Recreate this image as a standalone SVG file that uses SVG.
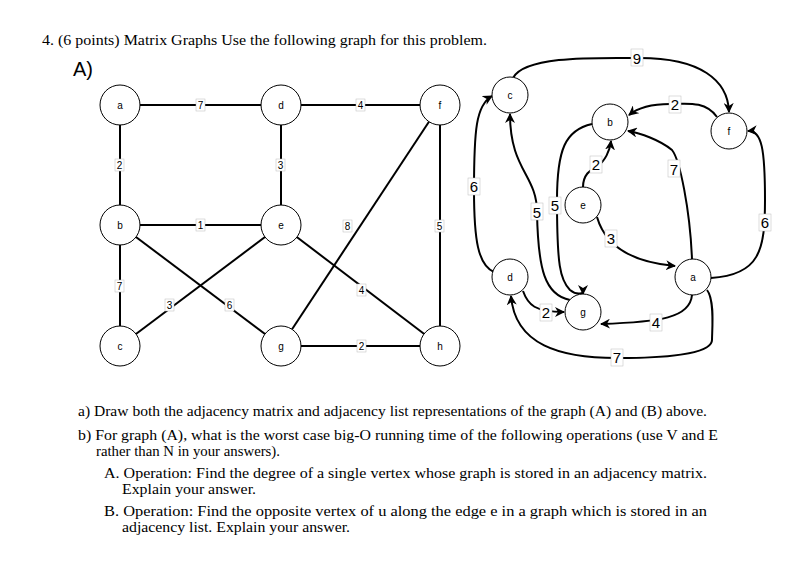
<svg xmlns="http://www.w3.org/2000/svg" width="790" height="566" viewBox="0 0 790 566">
<style>
.n circle{fill:#fff;stroke:#000;stroke-width:1}
.n text{font:10px "Liberation Sans",sans-serif;text-anchor:middle;dominant-baseline:central}
.e line,.e path{stroke:#000;stroke-width:2;fill:none}
.w{font:10px "Liberation Sans",sans-serif;text-anchor:middle;dominant-baseline:central}
.wb{fill:#fff;stroke:#bbb;stroke-width:0.5}
.W{font:15px "Liberation Sans",sans-serif;text-anchor:middle;dominant-baseline:central}
.t{font:14px "Liberation Serif",serif}
</style>
<defs><marker id="ar" viewBox="0 0 10 10" refX="9" refY="5" markerWidth="10" markerHeight="10" markerUnits="userSpaceOnUse" orient="auto"><path d="M0,0L10,5L0,10L3,5z" fill="#000"/></marker></defs>
<rect width="790" height="566" fill="#fff"/>
<text class="t" x="42" y="45" textLength="445" lengthAdjust="spacingAndGlyphs">4. (6 points) Matrix Graphs Use the following graph for this problem.</text>
<text x="73" y="76" font-family="Liberation Sans,sans-serif" font-size="20">A)</text>
<g id="connectors">
<g class="e">
<line x1="120" y1="105" x2="281" y2="105"/><line x1="281" y1="105" x2="440" y2="105"/>
<line x1="120" y1="105" x2="120" y2="225"/><line x1="281" y1="105" x2="281" y2="225"/>
<line x1="120" y1="225" x2="281" y2="225"/><line x1="120" y1="225" x2="120" y2="346"/>
<line x1="120" y1="225" x2="281" y2="346"/><line x1="281" y1="225" x2="120" y2="346"/>
<line x1="281" y1="225" x2="440" y2="346"/><line x1="440" y1="105" x2="281" y2="346"/>
<line x1="440" y1="105" x2="440" y2="346"/><line x1="281" y1="346" x2="440" y2="346"/>
</g>
<g class="e">
<path d="M513,78 C525,55 600,58 640,58 C700,58 728,80 729,112" marker-end="url(#ar)"/>
<path d="M717,117 C705,100 685,104 670,104 C655,104 640,106 629,115" marker-end="url(#ar)"/>
<path d="M692,259 C690,210 680,160 672,150 C660,140 640,133 628,131" marker-end="url(#ar)"/>
<path d="M583,187 C583,175 590,170 597,166 C605,162 610,150 611,141" marker-end="url(#ar)"/>
<path d="M592,124 C565,130 557,150 557,200 C557,265 560,280 570,290 C580,298 583,290 583,294" marker-end="url(#ar)"/>
<path d="M570,300 C545,295 538,270 537,212 C537,175 510,170 510,114" marker-end="url(#ar)"/>
<path d="M494,272 C478,265 474,240 474,190 C474,130 476,105 492,96" marker-end="url(#ar)"/>
<path d="M597,217 C605,245 630,262 675,266" marker-end="url(#ar)"/>
<path d="M711,278 C760,275 765,250 765,200 C765,150 762,130 748,131" marker-end="url(#ar)"/>
<path d="M523,291 C528,305 535,312 564,312" marker-end="url(#ar)"/>
<path d="M692,295 C690,318 660,322 601,324" marker-end="url(#ar)"/>
<path d="M707,290 C715,300 712,330 712,340 C712,355 660,358 617,358 C560,358 515,345 511,296" marker-end="url(#ar)"/>
</g>
<g>
<rect class="wb" x="196" y="99" width="9" height="12"/><text class="w" x="200.5" y="105">7</text>
<rect class="wb" x="356" y="99" width="9" height="12"/><text class="w" x="360.5" y="105">4</text>
<rect class="wb" x="115" y="159" width="9" height="12"/><text class="w" x="119.5" y="165">2</text>
<rect class="wb" x="276" y="159" width="9" height="12"/><text class="w" x="280.5" y="165">3</text>
<rect class="wb" x="196" y="219" width="9" height="12"/><text class="w" x="200.5" y="225">1</text>
<rect class="wb" x="115" y="280" width="9" height="12"/><text class="w" x="119.5" y="286">7</text>
<rect class="wb" x="165" y="299" width="9" height="12"/><text class="w" x="169.5" y="305">3</text>
<rect class="wb" x="225" y="299" width="9" height="12"/><text class="w" x="229.5" y="305">6</text>
<rect class="wb" x="357" y="284" width="9" height="12"/><text class="w" x="361.5" y="290">4</text>
<rect class="wb" x="357" y="340" width="9" height="12"/><text class="w" x="361.5" y="346">2</text>
<rect class="wb" x="343" y="220" width="9" height="12"/><text class="w" x="347.5" y="226">8</text>
<rect class="wb" x="435" y="220" width="9" height="12"/><text class="w" x="439.5" y="226">5</text>
</g>
<g>
<rect class="wb" x="631" y="49" width="12" height="17"/><text class="W" x="637" y="58">9</text>
<rect class="wb" x="669" y="96" width="12" height="17"/><text class="W" x="675" y="104">2</text>
<rect class="wb" x="668" y="160" width="12" height="17"/><text class="W" x="674" y="169">7</text>
<rect class="wb" x="590" y="156" width="12" height="17"/><text class="W" x="596" y="164">2</text>
<rect class="wb" x="549" y="197" width="12" height="17"/><text class="W" x="555" y="205">5</text>
<rect class="wb" x="531" y="203" width="12" height="17"/><text class="W" x="537" y="212">5</text>
<rect class="wb" x="468" y="178" width="12" height="17"/><text class="W" x="474" y="186">6</text>
<rect class="wb" x="605" y="230" width="12" height="17"/><text class="W" x="611" y="238">3</text>
<rect class="wb" x="759" y="214" width="12" height="17"/><text class="W" x="765" y="222">6</text>
<rect class="wb" x="540" y="304" width="12" height="17"/><text class="W" x="546" y="312">2</text>
<rect class="wb" x="650" y="314" width="12" height="17"/><text class="W" x="656" y="322">4</text>
<rect class="wb" x="611" y="349" width="12" height="17"/><text class="W" x="617" y="357">7</text>
</g>
</g>
<g id="A_a" class="n"><circle cx="120" cy="105" r="20"/><text x="120" y="105">a</text></g>
<g id="A_d" class="n"><circle cx="281" cy="105" r="20"/><text x="281" y="105">d</text></g>
<g id="A_f" class="n"><circle cx="440" cy="105" r="20"/><text x="440" y="105">f</text></g>
<g id="A_b" class="n"><circle cx="120" cy="225" r="20"/><text x="120" y="225">b</text></g>
<g id="A_e" class="n"><circle cx="281" cy="225" r="20"/><text x="281" y="225">e</text></g>
<g id="A_c" class="n"><circle cx="120" cy="346" r="20"/><text x="120" y="346">c</text></g>
<g id="A_g" class="n"><circle cx="281" cy="346" r="20"/><text x="281" y="346">g</text></g>
<g id="A_h" class="n"><circle cx="440" cy="346" r="20"/><text x="440" y="346">h</text></g>
<g id="B_c" class="n"><circle cx="510" cy="95" r="18"/><text x="510" y="95" font-size="8">c</text></g>
<g id="B_b" class="n"><circle cx="610" cy="122" r="18"/><text x="610" y="122" font-size="8">b</text></g>
<g id="B_f" class="n"><circle cx="729" cy="131" r="18"/><text x="729" y="131" font-size="8">f</text></g>
<g id="B_e" class="n"><circle cx="583" cy="205" r="18"/><text x="583" y="205" font-size="8">e</text></g>
<g id="B_d" class="n"><circle cx="510" cy="277" r="18"/><text x="510" y="277" font-size="8">d</text></g>
<g id="B_a" class="n"><circle cx="693" cy="277" r="18"/><text x="693" y="277" font-size="8">a</text></g>
<g id="B_g" class="n"><circle cx="583" cy="312" r="18"/><text x="583" y="312" font-size="8">g</text></g>
<g>
<text class="t" x="78" y="416" textLength="629" lengthAdjust="spacingAndGlyphs">a) Draw both the adjacency matrix and adjacency list representations of the graph (A) and (B) above.</text>
<text class="t" x="78" y="440" textLength="640" lengthAdjust="spacingAndGlyphs">b) For graph (A), what is the worst case big-O running time of the following operations (use V and E</text>
<text class="t" x="96" y="456" textLength="184" lengthAdjust="spacingAndGlyphs">rather than N in your answers).</text>
<text class="t" x="104" y="478" textLength="603" lengthAdjust="spacingAndGlyphs">A. Operation: Find the degree of a single vertex whose graph is stored in an adjacency matrix.</text>
<text class="t" x="122" y="494" textLength="134" lengthAdjust="spacingAndGlyphs">Explain your answer.</text>
<text class="t" x="104" y="516" textLength="603" lengthAdjust="spacingAndGlyphs">B. Operation: Find the opposite vertex of u along the edge e in a graph which is stored in an</text>
<text class="t" x="122" y="532" textLength="228" lengthAdjust="spacingAndGlyphs">adjacency list. Explain your answer.</text>
</g>
</svg>
